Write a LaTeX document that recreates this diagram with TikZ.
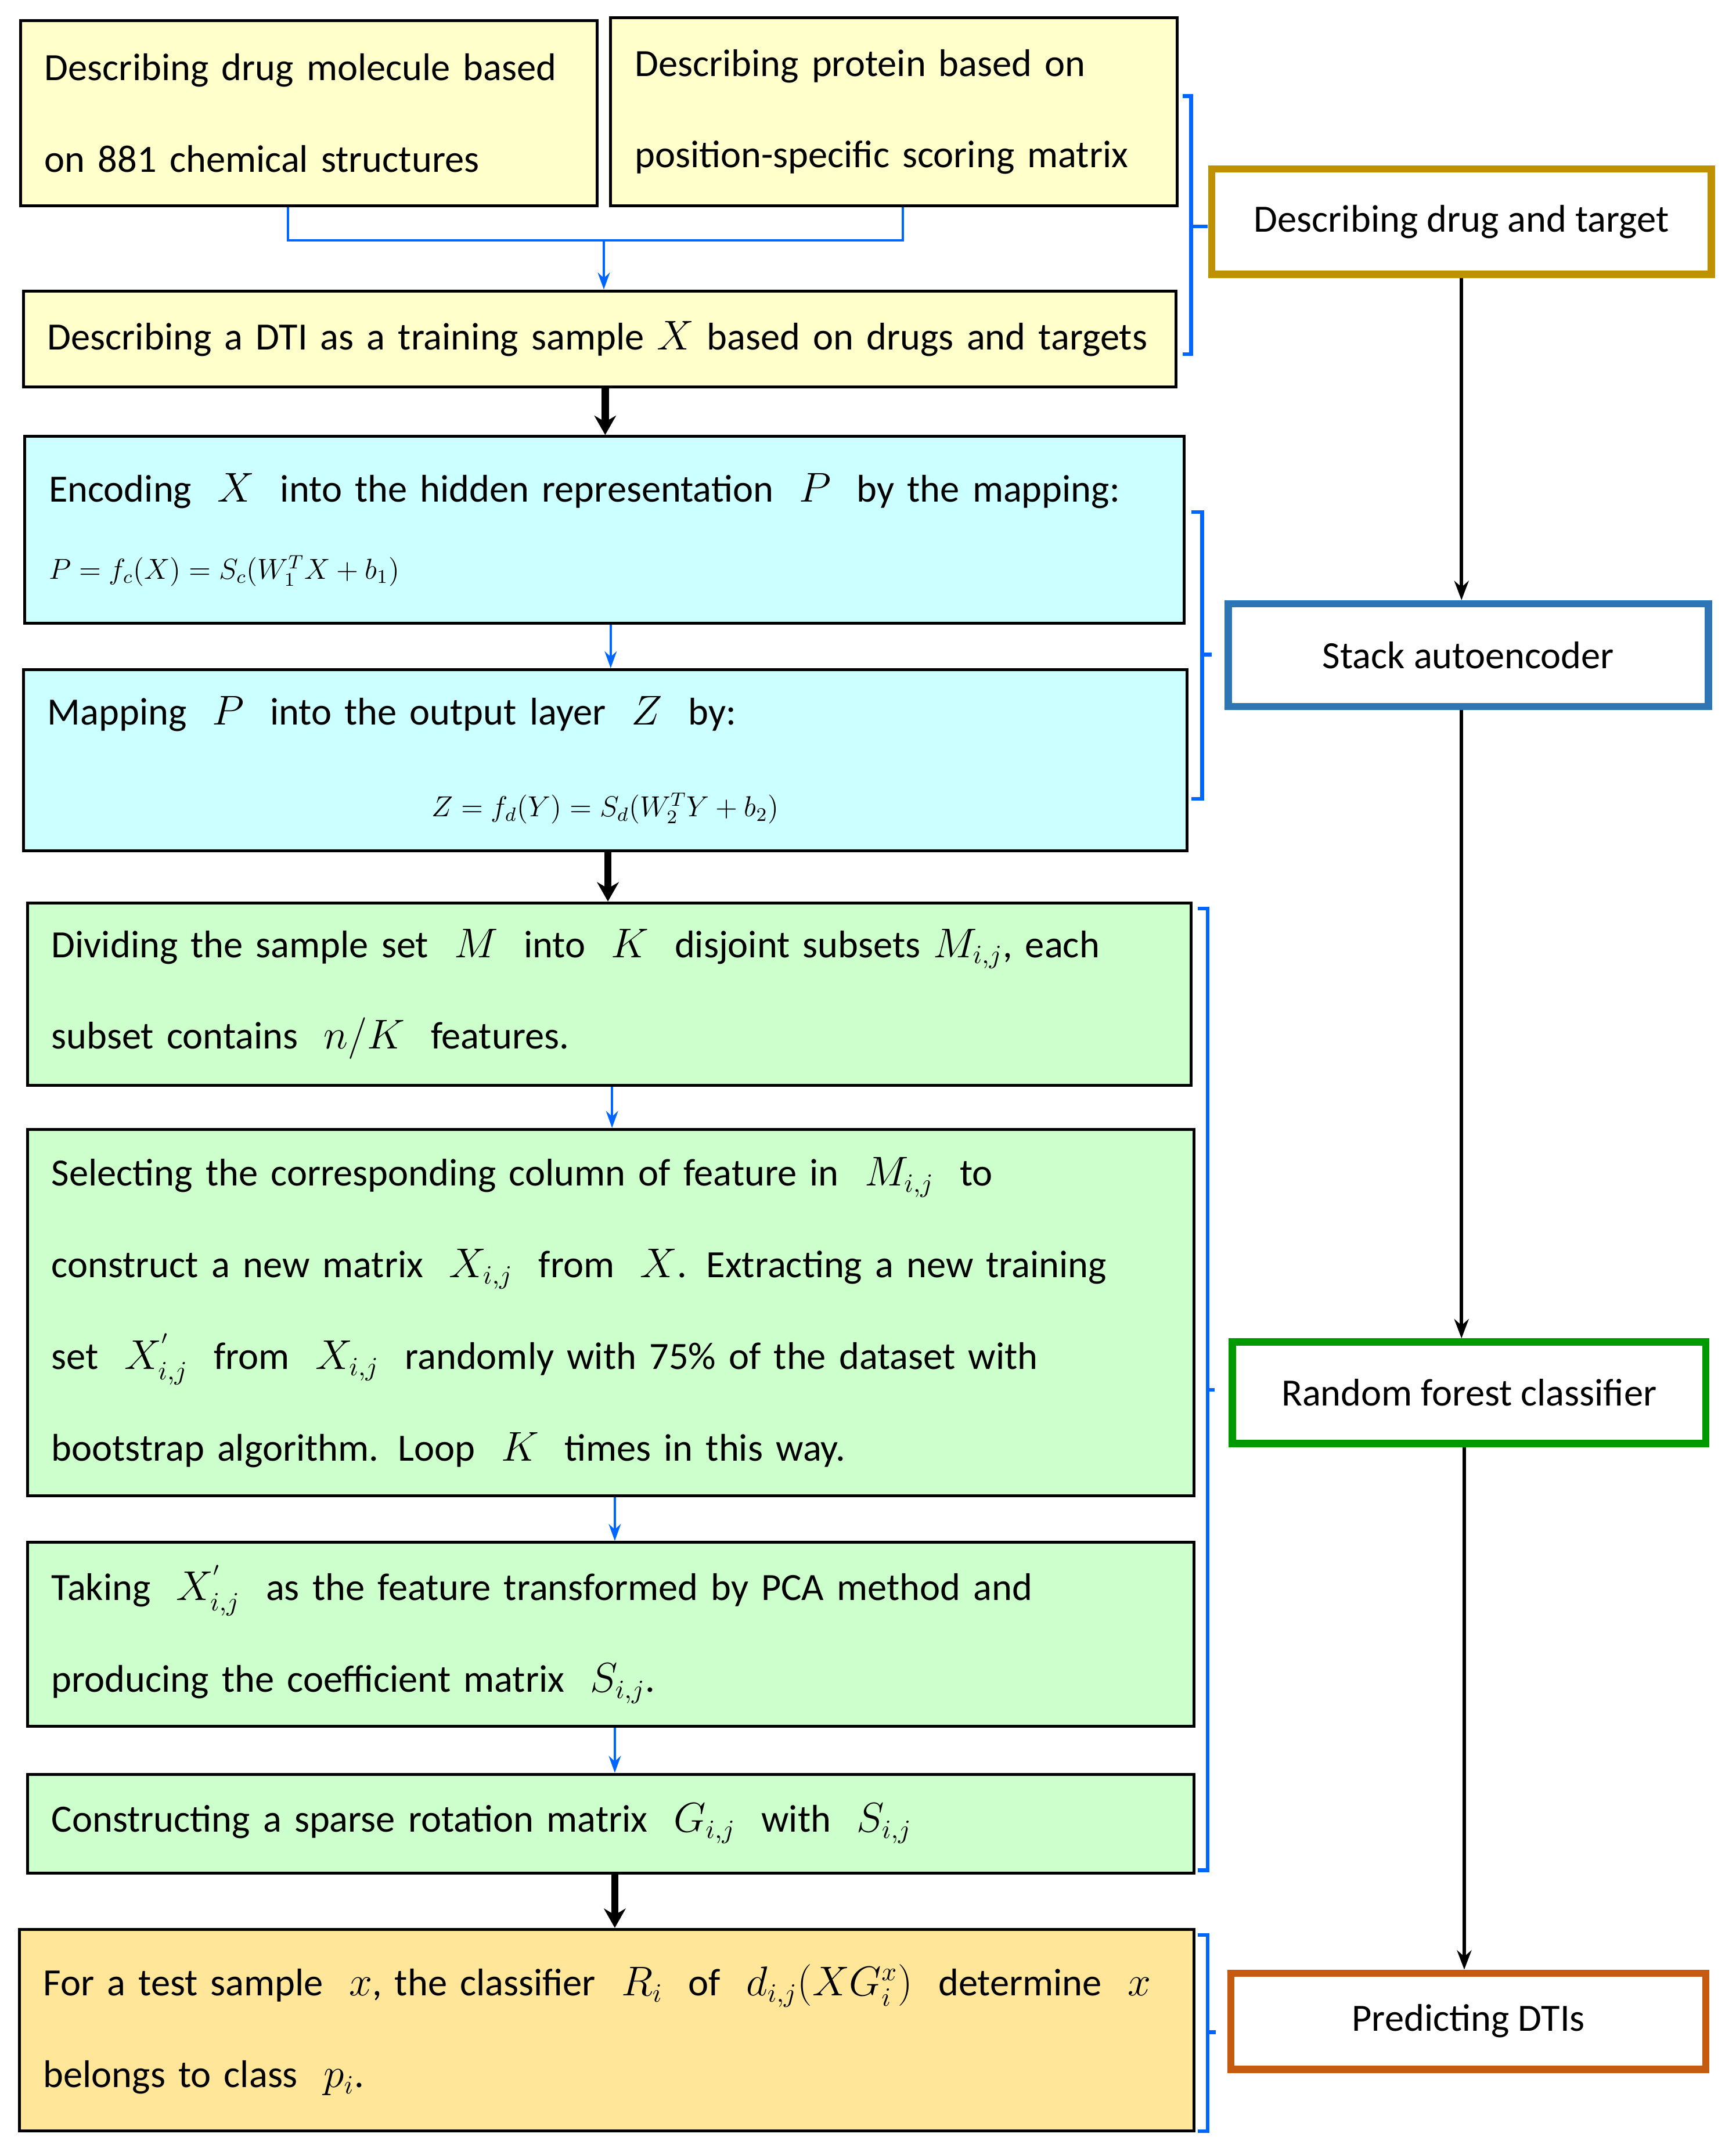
\documentclass[tikz,border=0pt]{standalone}
\usepackage{fontspec}
\setmainfont{Carlito}
\usetikzlibrary{arrows.meta}
\definecolor{bl}{HTML}{0066FF}
\newcommand{\spr}[1]{\makebox[\linewidth][s]{#1}}
\begin{document}
\begin{tikzpicture}[x=0.02cm,y=-0.02cm,
 bx/.style={draw,line width=1.2pt,inner sep=0pt,align=left,
   font=\fontsize{16}{38}\selectfont},
 rb/.style={draw,line width=3pt,inner sep=0pt,align=center,font=\fontsize{16}{18}\selectfont},
 ba/.style={bl,line width=1pt,-{Stealth[length=7pt,width=5pt]}},
 ka/.style={black,line width=3pt,-{Stealth[length=8pt,width=9pt]}},
 ra/.style={black,line width=1.5pt,-{Stealth[length=8pt,width=6pt]}},
 br/.style={bl,line width=1.5pt}]
\useasboundingbox (0,0) rectangle (1265,1570.5);
\node[bx,fill={rgb,255:red,255;green,255;blue,204},minimum width=8.4cm,minimum height=2.7cm,text width=7.7cm] (b1) at (225,82.5) {Describing drug molecule based\\on 881 chemical structures};
\node[bx,fill={rgb,255:red,255;green,255;blue,204},minimum width=8.26cm,minimum height=2.74cm,text width=7.56cm] (b2) at (651.5,81.5) {\spr{Describing protein based on}\\position-specific scoring matrix};
\node[bx,fill={rgb,255:red,255;green,255;blue,204},minimum width=16.8cm,minimum height=1.4cm,text width=16.1cm] (b3) at (437,247) {Describing a DTI as a training sample $X$ based on drugs and targets};
\node[bx,fill={rgb,255:red,204;green,255;blue,255},minimum width=16.9cm,minimum height=2.72cm,text width=16.2cm] (b4) at (440.5,386) {\spr{Encoding \ $X$ \ into the hidden representation \ $P$ \ by the mapping:}\\[-6pt] {\large $P=f_c(X)=S_c(W_1^TX+b_1)$}};
\node[bx,fill={rgb,255:red,204;green,255;blue,255},minimum width=16.96cm,minimum height=2.64cm,text width=16.26cm] (b5) at (441,554) {Mapping \ $P$ \ into the output layer \ $Z$ \ by:\\ \makebox[\linewidth]{\large $Z=f_d(Y)=S_d(W_2^TY+b_2)$}};
\node[bx,fill={rgb,255:red,204;green,255;blue,204},minimum width=16.96cm,minimum height=2.66cm,text width=16.26cm] (b6) at (444,724.5) {\spr{Dividing the sample set \ $M$ \ into \ $K$ \ disjoint subsets $M_{i,j}$, each}\\subset contains \ $n/K$ \ features.};
\node[bx,fill={rgb,255:red,204;green,255;blue,204},minimum width=17cm,minimum height=5.34cm,text width=16.3cm] (b7) at (445,956.5) {Selecting the corresponding column of feature in \ $M_{i,j}$ \ to\\construct a new matrix \ $X_{i,j}$ \ from \ $X$. Extracting a new training\\set \ $X^{'}_{i,j}$ \ from \ $X_{i,j}$ \ randomly with 75\% of the dataset with\\bootstrap algorithm. Loop \ $K$ \ times in this way.};
\node[bx,fill={rgb,255:red,204;green,255;blue,204},minimum width=17cm,minimum height=2.68cm,text width=16.3cm] (b8) at (445,1191) {\spr{Taking \ $X^{'}_{i,j}$ \ as the feature transformed by PCA method and}\\producing the coefficient matrix \ $S_{i,j}$.};
\node[bx,fill={rgb,255:red,204;green,255;blue,204},minimum width=17cm,minimum height=1.44cm,text width=16.3cm] (b9) at (445,1329) {Constructing a sparse rotation matrix \ $G_{i,j}$ \ with \ $S_{i,j}$};
\node[bx,fill={rgb,255:red,255;green,230;blue,153},minimum width=17.12cm,minimum height=2.94cm,text width=16.42cm] (b10) at (442,1479.5) {\spr{For a test sample \ $x$, the classifier \ $R_i$ \ of \ $d_{i,j}(XG_i^x)$ \ determine \ $x$}\\belongs to class \ $p_i$.};
\node[rb,draw={rgb,255:red,191;green,144;blue,0},minimum width=7.28cm,minimum height=1.54cm] (r1) at (1065,161.5) {Describing drug and target};
\node[rb,draw={rgb,255:red,46;green,117;blue,182},minimum width=7cm,minimum height=1.5cm] (r2) at (1070,477.5) {Stack autoencoder};
\node[rb,draw={rgb,255:red,0;green,153;blue,0},minimum width=6.9cm,minimum height=1.48cm] (r3) at (1070.5,1015) {Random forest classifier};
\node[rb,draw={rgb,255:red,197;green,90;blue,17},minimum width=6.92cm,minimum height=1.4cm] (r4) at (1070,1473) {Predicting DTIs};
% connectors
\coordinate (j) at (440,175);
\draw[bl,line width=1pt] (b1.south -| 210,0) |- (j) -| (b2.south -| 658,0);
\draw[ba] (j) -- (b3.north -| j);
\draw[ka] (b3.south -| 441,0) -- (b4.north -| 441,0);
\draw[ba] (b4.south -| 445,0) -- (b5.north -| 445,0);
\draw[ka] (b5.south -| 443,0) -- (b6.north -| 443,0);
\draw[ba] (b6.south -| 446,0) -- (b7.north -| 446,0);
\draw[ba] (b7.south -| 448,0) -- (b8.north -| 448,0);
\draw[ba] (b8.south -| 448,0) -- (b9.north -| 448,0);
\draw[ka] (b9.south -| 448,0) -- (b10.north -| 448,0);
\draw[ra] (r1.south -| 1065,0) -- (r2.north -| 1065,0);
\draw[ra] (r2.south -| 1065,0) -- (r3.north -| 1065,0);
\draw[ra] (r3.south -| 1067,0) -- (r4.north -| 1067,0);
% brackets
\draw[br] (862,70) -- (868,70) -- (868,258) -- (862,258) (868,165) -- (880,165);
\draw[br] (868,373) -- (876,373) -- (876,582) -- (868,582) (876,477) -- (883,477);
\draw[br] (873,662) -- (880,662) -- (880,1363) -- (873,1363) (880,1013) -- (885,1013);
\draw[br] (873,1410) -- (880,1410) -- (880,1553) -- (873,1553) (880,1481) -- (886,1481);
\end{tikzpicture}
\end{document}
